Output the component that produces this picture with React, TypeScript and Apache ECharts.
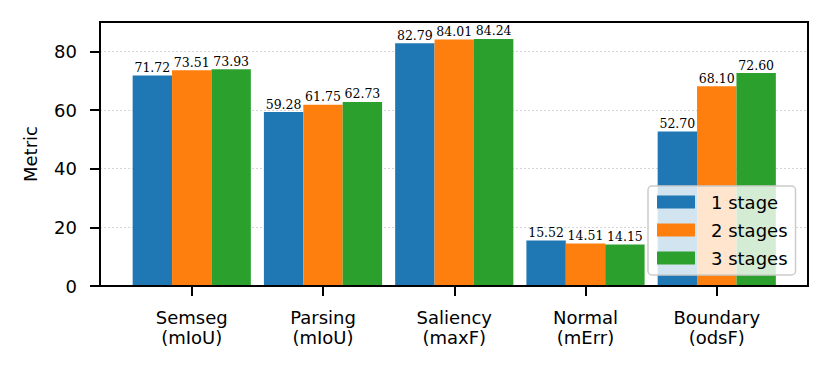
import React, { useEffect, useRef } from "react";
import * as echarts from "echarts";

const categories = ["Semseg\n(mIoU)", "Parsing\n(mIoU)", "Saliency\n(maxF)", "Normal\n(mErr)", "Boundary\n(odsF)"];
const seriesNames = ["1 stage", "2 stages", "3 stages"];
const stage1 = [71.72, 59.28, 82.79, 15.52, 52.7];
const stage2 = [73.51, 61.75, 84.01, 14.51, 68.1];
const stage3 = [73.93, 62.73, 84.24, 14.15, 72.6];
const yTicks = [0, 20, 40, 60, 80];
const colors = ["#1f77b4", "#ff7f0e", "#2ca02c"];

const SANS = "DejaVu Sans";
const SERIF = "DejaVu Serif";

export default function App() {
  const ref = useRef<HTMLDivElement>(null);
  useEffect(() => {
    if (!ref.current) return;
    const chart = echarts.init(ref.current, null, { renderer: "svg" });
    const values = [stage1, stage2, stage3];
    chart.setOption({
      animation: false,
      backgroundColor: "#ffffff",
      textStyle: { fontFamily: SANS },
      grid: [
        { left: 100, top: 22, width: 708, height: 264, show: true, borderColor: "#000", borderWidth: 2, backgroundColor: "transparent" },
        { left: 126.125, top: 22, width: 656.25, height: 264 },
      ],
      legend: {
        orient: "vertical",
        left: 648,
        top: 186,
        itemWidth: 38,
        itemHeight: 13,
        itemGap: 8,
        padding: [6, 8, 7, 9],
        backgroundColor: "rgba(255,255,255,0.8)",
        borderColor: "#cccccc",
        borderWidth: 1.5,
        borderRadius: 4,
        icon: "rect",
        data: seriesNames,
        textStyle: { fontSize: 18, lineHeight: 20, padding: [0, 0, 0, 11], color: "#000", fontFamily: SANS },
      },
      xAxis: [
        {
          gridIndex: 0, type: "value", min: 0, max: 1, z: 10,
          axisLabel: { show: false }, axisTick: { show: false }, splitLine: { show: false },
          axisLine: { show: true, lineStyle: { color: "#000", width: 2 } },
        },
        {
          gridIndex: 1, type: "category", data: categories,
          axisLine: { show: false },
          axisTick: { show: true, alignWithLabel: true, length: 10, lineStyle: { color: "#000", width: 2 } },
          axisLabel: { interval: 0, fontSize: 18, lineHeight: 20, color: "#000", margin: 21, fontFamily: SANS },
          splitLine: { show: false },
        },
      ],
      yAxis: [
        {
          gridIndex: 0, type: "value", min: 0, max: 90, interval: 20,
          axisLine: { show: true, lineStyle: { color: "#000", width: 2 } },
          axisTick: { show: true, length: 10, lineStyle: { color: "#000", width: 2 }, customValues: yTicks },
          axisLabel: { fontSize: 18, color: "#000", margin: 23, fontFamily: SANS, customValues: yTicks },
          splitLine: { show: true, lineStyle: { color: "#cccccc", type: [2, 2], width: 0.8 } },
          name: "Metric", nameLocation: "middle", nameGap: 61,
          nameTextStyle: { fontSize: 18, color: "#000", fontFamily: SANS },
        },
        { gridIndex: 1, type: "value", min: 0, max: 90, show: false },
      ],
      series: seriesNames.map((name, i) => ({
        name,
        type: "bar",
        xAxisIndex: 1,
        yAxisIndex: 1,
        barWidth: 39.4,
        barGap: "0%",
        data: values[i],
        itemStyle: { color: colors[i] },
        label: {
          show: true, position: "top", distance: 1.5,
          fontFamily: SERIF, fontSize: 12.5, color: "#000",
          formatter: (p: any) => Number(p.value).toFixed(2),
        },
      })),
    });
    return () => chart.dispose();
  }, []);
  return <div ref={ref} style={{ position: "fixed", left: 0, top: 0, width: 831, height: 371 }} />;
}
